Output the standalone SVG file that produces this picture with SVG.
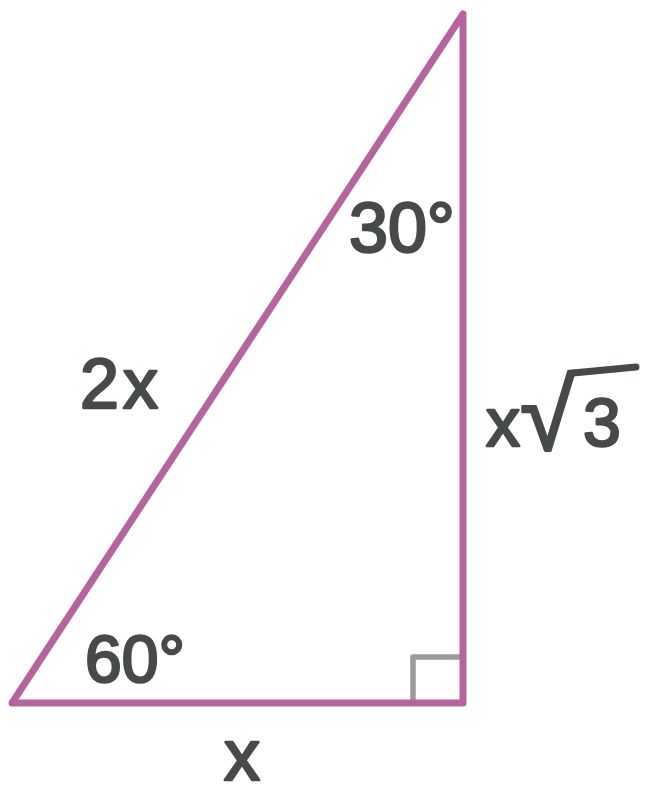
<svg xmlns="http://www.w3.org/2000/svg" width="648" height="798" viewBox="0 0 648 798">
<style>
.lbl{font-family:"Liberation Sans","DejaVu Sans",sans-serif;fill:#474a4b;stroke:#474a4b;stroke-width:2.5;stroke-linejoin:round}
</style>
<rect width="648" height="798" fill="#ffffff"/>
<g id="connectors">
<path id="right-angle" d="M413,700 V657 H460" fill="none" stroke="#9a9a9a" stroke-width="5.5" stroke-linecap="round" stroke-linejoin="round"/>
</g>
<g id="triangle">
<path d="M12,703 L463,14 L463,703 Z" fill="none" stroke="#b5649d" stroke-width="7" stroke-linejoin="round" stroke-linecap="round"/>
</g>
<g id="label-30">
<text class="lbl" x="349" y="252" font-size="70">30°</text>
</g>
<g id="label-2x">
<text class="lbl" x="80" y="408" font-size="70" letter-spacing="4">2x</text>
</g>
<g id="label-xroot3">
<text class="lbl" x="486" y="446" font-size="68">x<tspan font-size="100" dy="4">√</tspan><tspan dy="-4" dx="8">3</tspan></text>
<line x1="573" y1="373" x2="636" y2="367" stroke="#474a4b" stroke-width="7" stroke-linecap="round"/>
</g>
<g id="label-60">
<text class="lbl" x="85" y="682" font-size="66">60°</text>
</g>
<g id="label-x">
<text class="lbl" x="224" y="780" font-size="72">x</text>
</g>
</svg>
